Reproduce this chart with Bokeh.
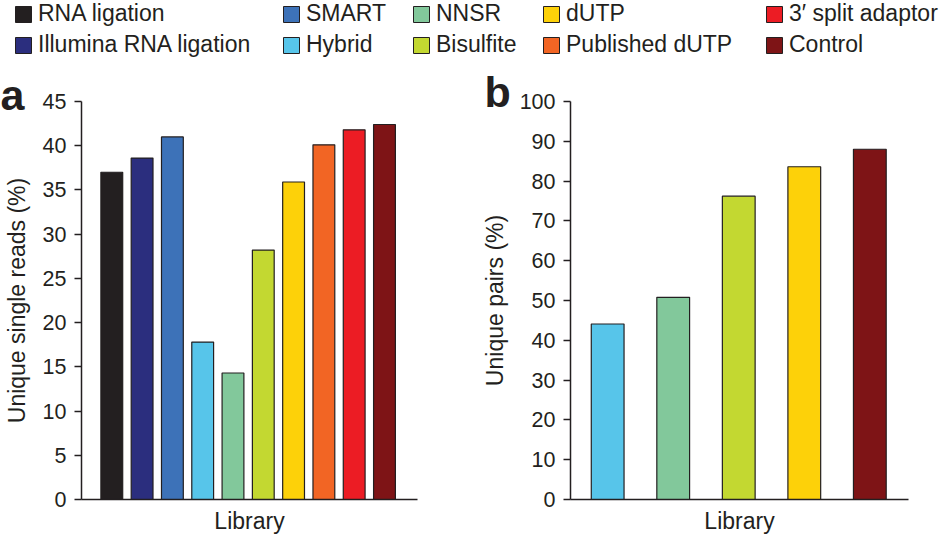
from bokeh.plotting import figure
from bokeh.models import Range1d, FixedTicker, Legend, LegendItem
from bokeh.layouts import column, row
from bokeh.embed import file_html
from bokeh.resources import INLINE

FONT = "Liberation Sans"
INK = "#231f20"

# panel a: all ten libraries
libraries = ["RNA ligation", "Illumina RNA ligation", "SMART", "Hybrid", "NNSR",
             "Bisulfite", "dUTP", "Published dUTP", "3\u2032 split adaptor", "Control"]
colors = ["#231f20", "#2b2e7e", "#3d72b8", "#57c5ea", "#82c89b",
          "#c3d831", "#fdd109", "#f26524", "#ec1c24", "#7e1416"]
single_reads = [37.0, 38.6, 41.0, 17.8, 14.3, 28.2, 35.9, 40.1, 41.8, 42.4]
a_ticks = [0, 5, 10, 15, 20, 25, 30, 35, 40, 45]

# panel b: paired-end libraries only
pair_libraries = ["Hybrid", "NNSR", "Bisulfite", "dUTP", "Control"]
pair_colors = ["#57c5ea", "#82c89b", "#c3d831", "#fdd109", "#7e1416"]
unique_pairs = [44.1, 50.8, 76.2, 83.6, 88.0]
b_ticks = [0, 10, 20, 30, 40, 50, 60, 70, 80, 90, 100]

# left edge (px) of each legend column, two entries per column
legend_cols_x = [13, 281, 411, 541, 764]


def style(p, ticks, ylabel, standoff, letter, letter_dx, letter_dy):
    p.grid.visible = False
    p.outline_line_color = None
    p.background_fill_color = None
    p.border_fill_color = None
    for ax in (p.xaxis[0], p.yaxis[0]):
        ax.axis_line_color = INK
        ax.axis_line_width = 1.5
        ax.major_tick_line_color = INK
        ax.major_tick_line_width = 1.5
        ax.minor_tick_line_color = None
        ax.major_tick_in = 0
        ax.axis_label_text_font = FONT
        ax.axis_label_text_font_size = "23px"
        ax.axis_label_text_font_style = "normal"
        ax.axis_label_text_color = INK
        ax.major_label_text_font = FONT
        ax.major_label_text_font_size = "21.5px"
        ax.major_label_text_color = INK
    p.yaxis.ticker = FixedTicker(ticks=ticks)
    p.yaxis.major_tick_out = 7
    p.yaxis.major_label_standoff = 8
    p.yaxis.axis_label = ylabel
    p.yaxis.axis_label_standoff = standoff
    p.xaxis.ticker = FixedTicker(ticks=[])
    p.xaxis.major_tick_out = 0
    p.xaxis.major_label_standoff = 0
    p.xaxis.axis_label = "Library"
    p.xaxis.axis_label_standoff = 8
    # panel letter as a title pulled down beside the top tick
    p.title.text = letter
    p.title.align = "left"
    p.title.offset = letter_dx
    p.title.standoff = letter_dy
    p.title.text_font = FONT
    p.title.text_font_size = "43px"
    p.title.text_font_style = "bold"
    p.title.text_color = INK


# legend strip
leg = figure(width=946, height=60, x_range=Range1d(0, 1), y_range=Range1d(0, 1),
             min_border=0, output_backend="svg", toolbar_location=None)
leg.axis.visible = False
leg.grid.visible = False
leg.outline_line_color = None
items = []
for name, c in zip(libraries, colors):
    r = leg.vbar(x=[-5], top=[-5], width=0.5, fill_color=c, line_color=INK, line_width=1)
    items.append(LegendItem(label=name, renderers=[r]))
for i, x0 in enumerate(legend_cols_x):
    lg = Legend(items=items[2 * i:2 * i + 2], orientation="vertical", location=(x0, 2),
                glyph_width=20, glyph_height=20, label_standoff=5, spacing=4,
                padding=0, margin=0, border_line_color=None, background_fill_alpha=0,
                label_text_font=FONT, label_text_font_size="23px", label_text_color=INK)
    leg.add_layout(lg, "center")

# panel a
pa = figure(width=475, height=477, x_range=Range1d(0, 11.09), y_range=Range1d(0, 45),
            min_border_left=80, min_border_right=58, min_border_top=41, min_border_bottom=38,
            output_backend="svg", toolbar_location=None)
xa = list(range(1, len(libraries) + 1))
pa.vbar(x=xa, top=single_reads, width=0.72, fill_color=colors, line_color=INK, line_width=1.2)
style(pa, a_ticks, "Unique single reads (%)", 10, "a", -81, -35)

# panel b
pb = figure(width=471, height=477, x_range=Range1d(0.433, 5.59), y_range=Range1d(0, 100),
            min_border_left=95, min_border_right=38, min_border_top=41, min_border_bottom=38,
            output_backend="svg", toolbar_location=None)
xb = list(range(1, len(pair_libraries) + 1))
pb.vbar(x=xb, top=unique_pairs, width=0.5, fill_color=pair_colors, line_color=INK, line_width=1.2)
style(pb, b_ticks, "Unique pairs (%)", 9, "b", -86, -28)

p = column(leg, row(pa, pb))
open("out.html", "w").write(file_html(p, INLINE))
